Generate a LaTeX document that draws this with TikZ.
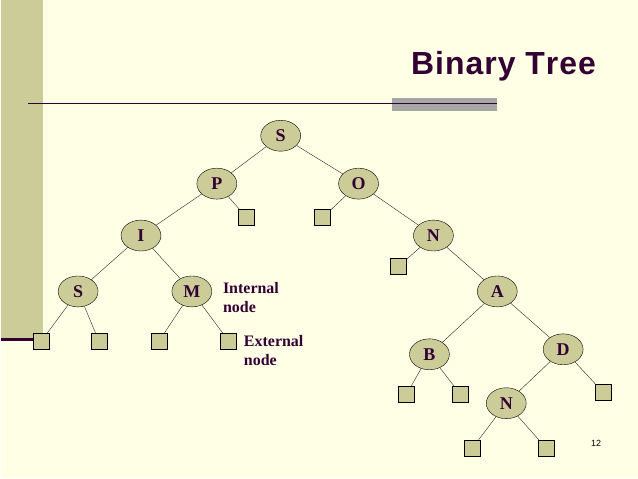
\documentclass[tikz,border=0pt]{standalone}
\usepackage{fontspec}
\setmainfont{Liberation Serif}
\setsansfont{Liberation Sans}
\usetikzlibrary{shapes.geometric}
\definecolor{bgcol}{HTML}{FFFFE6}
\definecolor{barcol}{HTML}{CCCC99}
\definecolor{nodecol}{HTML}{CCCC99}
\definecolor{txtcol}{HTML}{330033}
\tikzstyle{inode} = [draw=black, fill=nodecol, ellipse, minimum width=40pt, minimum height=31pt, inner sep=0pt, font=\fontsize{18}{18}\selectfont\bfseries, text=txtcol]
\tikzstyle{enode} = [draw=black, thick, fill=nodecol, rectangle, minimum size=16pt, inner sep=0pt]
\tikzstyle{lbl} = [align=left, anchor=north west, inner sep=0pt, font=\fontsize{16}{19}\selectfont\bfseries, text=txtcol]

\begin{document}
\begin{tikzpicture}[x=1pt, y=-1pt]
	\fill [bgcol] (0,0) rectangle (638,479);
	\fill [barcol] (0,0) rectangle (42,340);
	\draw [txtcol, line width=2.5pt] (0,340) -- (32,340);
	\fill [black!35] (392,98) rectangle (497,111);
	\draw [txtcol, line width=1pt] (27,104) -- (497,104);
	\node [anchor=base east, inner sep=0pt, text=txtcol, font=\sffamily\bfseries\fontsize{32}{32}\selectfont] (title) at (596,75) {B\kern1pt i\kern1pt n\kern1pt a\kern1pt r\kern1pt y\kern1pt{} T\kern1pt r\kern1pt e\kern1pt e};
	\node [inner sep=0pt, font=\sffamily\fontsize{9}{9}\selectfont] (page) at (596,444) {12};

	% internal nodes
	\node [inode] (s) at (280,136) {S};
	\node [inode] (p) at (216,184) {P};
	\node [inode] (o) at (358,184) {O};
	\node [inode] (i) at (140,236) {I};
	\node [inode] (n) at (433,236) {N};
	\node [inode] (s2) at (77,292) {S};
	\node [inode] (m) at (191,292) {M};
	\node [inode] (a) at (497,292) {A};
	\node [inode] (b) at (429,355) {B};
	\node [inode] (d) at (563,350) {D};
	\node [inode] (n2) at (506,404) {N};

	% external nodes
	\node [enode] (e1) at (40,342) {};
	\node [enode] (e2) at (98,342) {};
	\node [enode] (e3) at (158,342) {};
	\node [enode] (e4) at (228,342) {};
	\node [enode] (e5) at (246,218) {};
	\node [enode] (e6) at (322,218) {};
	\node [enode] (e7) at (398,267) {};
	\node [enode] (e8) at (406,395) {};
	\node [enode] (e9) at (460,395) {};
	\node [enode] (e10) at (603,393) {};
	\node [enode] (e11) at (472,449) {};
	\node [enode] (e12) at (546,449) {};

	\node [lbl] (lint) at (222,283) {Internal\\node};
	\node [lbl] (lext) at (243,336) {External\\node};

	\foreach \u/\v in {s/p, s/o, p/i, p/e5, o/e6, o/n, i/s2, i/m, s2/e1, s2/e2, m/e3, m/e4, n/e7, n/a, a/b, a/d, b/e8, b/e9, d/n2, d/e10, n2/e11, n2/e12}
		\draw [black!85] (\u) -- (\v);
\end{tikzpicture}
\end{document}
